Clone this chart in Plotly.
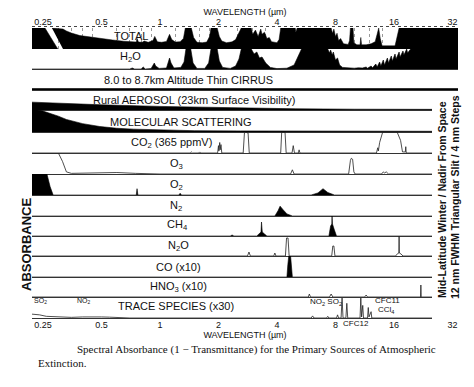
import math
import plotly.graph_objects as go

# ---------------- data: wavelength (um) / absorbance (0..1) ----------------
tick_vals = [0.25, 0.5, 1, 2, 4, 8, 16, 32]
tick_text = ["0.25", "0.5", "1", "2", "4", "8", "16", "32"]
minor_vals = [0.3, 0.35, 0.4, 0.45, 0.6, 0.7, 0.8, 0.9, 1.2, 1.4, 1.6, 1.8,
              2.5, 3, 3.5, 5, 6, 7, 10, 12, 14, 20, 24, 28]

total_uv_wl = [0.21, 0.21, 0.256, 0.298]
total_uv_abs = [0.0, 1.0, 1.0, 0.0]
total_wl = [0.278, 0.317, 0.33, 0.35, 0.387, 0.45, 0.5, 0.57, 0.65, 0.72, 0.755, 0.762, 0.775, 0.81,
            0.83, 0.87, 0.92, 0.94, 0.97, 1.02, 1.08, 1.12, 1.15, 1.2, 1.27, 1.32, 1.35, 1.45, 1.49,
            1.55, 1.65, 1.74, 1.8, 1.83, 1.97, 2.02, 2.08, 2.2, 2.35, 2.45, 2.55, 2.62, 2.95, 3.0,
            3.1, 3.2, 3.3, 3.35, 3.45, 3.55, 3.65, 3.75, 4.0, 4.1, 4.18, 4.95, 5.0, 5.08, 7.6, 7.72,
            7.85, 8.0, 8.15, 8.3, 8.5, 8.8, 9.3, 9.45, 9.55, 9.85, 9.95, 10.3, 10.7, 10.8, 10.9,
            11.5, 12.2, 12.8, 13.1, 13.35, 13.6, 13.9, 16.2, 16.6, 17.0, 35.0, 35.0, 0.317]
total_abs = [1.0, 0.95, 0.86, 0.76, 0.64, 0.55, 0.5, 0.43, 0.37, 0.34, 0.33, 0.5, 0.33, 0.32,
             0.38, 0.32, 0.4, 0.6, 0.34, 0.32, 0.36, 0.7, 0.45, 0.33, 0.35, 0.5, 1.0, 1.0, 0.55,
             0.32, 0.3, 0.33, 0.6, 1.0, 1.0, 0.6, 0.38, 0.3, 0.34, 0.45, 0.75, 1.0, 1.0, 0.7,
             0.9, 0.6, 0.95, 0.7, 0.8, 0.5, 0.55, 0.35, 0.3, 0.45, 1.0, 1.0, 0.8, 1.0, 1.0, 0.75,
             0.95, 0.6, 0.75, 0.4, 0.5, 0.25, 0.22, 0.4, 1.0, 1.0, 0.3, 0.2, 0.2, 0.55, 0.2,
             0.2, 0.25, 0.35, 0.7, 1.0, 0.5, 0.15, 0.15, 0.6, 1.0, 1.0, 0.0, 0.0]

h2o_wl = [0.21, 0.70, 0.72, 0.74, 0.80, 0.82, 0.84, 0.90, 0.935, 0.95, 0.99, 1.08, 1.12, 1.14, 1.18,
          1.28, 1.33, 1.36, 1.44, 1.48, 1.55, 1.7, 1.78, 1.83, 1.97, 2.02, 2.1, 2.3, 2.45, 2.55,
          2.62, 2.95, 3.05, 3.15, 3.25, 3.35, 3.5, 3.7, 4.0, 4.5, 4.9, 5.15, 5.35, 7.3, 7.45, 7.55,
          7.7, 7.8, 8.0, 8.2, 8.4, 8.7, 9.2, 10.0, 10.5, 11.0, 11.5, 11.7, 12.2, 12.4, 12.9, 13.1,
          13.5, 13.7, 14.1, 14.3, 14.8, 15.0, 15.5, 15.7, 16.2, 16.4, 17.0, 17.2, 17.8, 18.0, 18.6,
          18.8, 19.5, 35]
h2o_abs = [0, 0, 0.05, 0, 0, 0.1, 0, 0.02, 0.3, 0.15, 0.03, 0.05, 0.55, 0.3, 0.05,
           0.08, 0.35, 1.0, 1.0, 0.3, 0.03, 0.03, 0.3, 1.0, 1.0, 0.4, 0.08, 0.03, 0.15, 0.5,
           1.0, 1.0, 0.75, 0.85, 0.55, 0.6, 0.3, 0.08, 0.02, 0.04, 0.2, 0.7, 1.0, 1.0, 0.8, 0.95,
           0.7, 0.85, 0.45, 0.55, 0.2, 0.08, 0.05, 0.04, 0.06, 0.05, 0.1, 0.04, 0.15, 0.06, 0.25, 0.1,
           0.35, 0.15, 0.45, 0.2, 0.55, 0.3, 0.65, 0.4, 0.75, 0.5, 0.85, 0.6, 0.9, 0.7, 1.0,
           0.8, 1.0, 1.0]

cirrus_wl = [0.21, 35]
cirrus_abs = [0.07, 0.07]

aerosol_wl = [0.21, 0.3, 0.5, 1.0, 2.6, 5, 10, 35]
aerosol_abs = [0.4, 0.34, 0.26, 0.18, 0.09, 0.06, 0.04, 0.03]

molec_wl = [0.21, 0.233, 0.25, 0.27, 0.3, 0.33, 0.4, 0.49, 0.6, 0.73, 1.0, 1.5, 2.6, 5, 35]
molec_abs = [1.0, 1.0, 0.95, 0.86, 0.72, 0.57, 0.38, 0.25, 0.17, 0.13, 0.09, 0.06, 0.05, 0.04, 0.03]

co2_wl = [0.21, 1.43, 1.45, 1.47, 1.58, 1.6, 1.62, 1.98, 2.0, 2.01, 2.03, 2.04, 2.06, 2.08,
          2.68, 2.72, 2.76, 2.84, 2.88, 4.18, 4.23, 4.4, 4.46, 4.78, 4.85, 4.92, 5.15, 5.2, 5.25,
          13.0, 13.2, 13.3, 13.5, 14.0, 16.6, 17.3, 17.7, 18.3, 18.4, 18.5, 35]
co2_abs = [0, 0, 0.05, 0, 0, 0.05, 0, 0, 0.35, 0.1, 0.5, 0.15, 0.4, 0,
           0, 0.95, 1.0, 0.95, 0, 0, 1.0, 1.0, 0, 0, 0.35, 0, 0, 0.15, 0,
           0, 0.25, 0.1, 0.5, 1.0, 1.0, 0.6, 0.05, 0.05, 0.3, 0, 0]

o3_wl = [0.21, 0.30, 0.315, 0.33, 0.35, 0.45, 0.6, 0.75, 1.0, 4.7, 4.8, 4.9, 9.35, 9.55,
         9.65, 9.8, 9.95, 10.1, 13.8, 14.1, 14.3, 14.6, 15.0, 35]
o3_abs = [1.0, 1.0, 0.6, 0.1, 0.03, 0.05, 0.07, 0.03, 0.0, 0, 0.2, 0, 0, 0.65,
          0.75, 0.7, 0.1, 0, 0, 0.1, 0.05, 0.1, 0, 0]

o2_wl = [0.21, 0.262, 0.272, 0.282, 0.755, 0.762, 0.77, 1.25, 1.27, 1.29, 6.0, 6.5, 6.9, 7.3, 7.9, 35]
o2_abs = [1.0, 1.0, 0.4, 0.0, 0, 0.3, 0, 0, 0.08, 0, 0, 0.1, 0.3, 0.12, 0, 0]

n2_wl = [0.21, 3.9, 4.05, 4.15, 4.3, 4.5, 4.8, 35]
n2_abs = [0, 0, 0.25, 0.47, 0.3, 0.1, 0, 0]

ch4_wl = [0.21, 2.3, 2.35, 2.4, 3.15, 3.25, 3.31, 3.33, 3.36, 3.45, 3.55, 7.4, 7.55, 7.66, 7.68,
          7.72, 7.9, 8.1, 35]
ch4_abs = [0, 0, 0.05, 0, 0, 0.15, 0.2, 0.7, 0.2, 0.1, 0, 0, 0.5, 0.6, 1.0,
           0.6, 0.3, 0, 0]

n2o_wl = [0.21, 2.82, 2.87, 2.92, 3.85, 3.9, 3.95, 4.42, 4.48, 4.56, 4.62, 7.65, 7.75, 7.85, 7.95,
          16.3, 16.7, 16.95, 17.0, 17.05, 17.4, 17.8, 35]
n2o_abs = [0, 0, 0.2, 0, 0, 0.15, 0, 0, 0.9, 0.9, 0, 0, 0.5, 0.5, 0,
           0, 0.12, 0.15, 1.0, 0.15, 0.1, 0, 0]

co_wl = [0.21, 4.5, 4.55, 4.6, 4.7, 4.75, 4.8, 35]
co_abs = [0, 0, 0.6, 1.0, 1.0, 0.5, 0, 0]

hno3_wl = [0.21, 5.8, 5.87, 5.95, 7.45, 7.6, 7.75, 11.3, 11.5, 11.7, 21.9, 22.0, 22.1, 35]
hno3_abs = [0, 0, 0.15, 0, 0, 0.15, 0, 0, 0.1, 0, 0, 0.6, 0, 0]

trace_wl = [0.21, 0.24, 0.26, 0.3, 0.35, 0.4, 0.45, 0.5, 0.55, 0.6, 0.7, 6.0, 6.1, 6.2, 7.2,
            7.3, 7.4, 8.1, 8.2, 8.3, 8.55, 8.65, 8.75, 9.05, 9.15, 9.25, 10.7, 10.8, 10.9, 11.05,
            11.15, 11.7, 11.8, 11.9, 12.2, 12.3, 35]
trace_abs = [0.2, 0.15, 0.08, 0.05, 0.03, 0.05, 0.06, 0.05, 0.04, 0.02, 0, 0, 0.1, 0, 0,
             0.08, 0, 0, 0.15, 0, 0, 0.95, 0, 0, 0.7, 0, 0, 0.95, 0.05, 0.6,
             0, 0, 0.5, 0.05, 0.3, 0, 0]

# ---------------- layout geometry ----------------
W, H = 474, 387
L, R, T, B = 32, 16, 28, 69
PW = W - L - R           # 426
PH = H - T - B           # 290
PX_PER_OCT = 58.5
LEFT_WL = 0.2195
full_right = math.log10(LEFT_WL) + PW / PX_PER_OCT * math.log10(2)
narrow_px = 400
narrow_right = math.log10(LEFT_WL) + narrow_px / PX_PER_OCT * math.log10(2)

rows = [
    # (x, y, fillmode, top_px, bottom_px, wide, show_separator)
    (total_uv_wl, total_uv_abs, "toself", 28, 49, True, False),
    (h2o_wl, h2o_abs, "tozeroy", 49, 69, True, True),
    (cirrus_wl, cirrus_abs, "tozeroy", 69, 90, True, True),
    (aerosol_wl, aerosol_abs, "tozeroy", 90, 110, False, True),
    (molec_wl, molec_abs, "tozeroy", 110, 132, False, True),
    (co2_wl, co2_abs, None, 132, 153, False, True),
    (o3_wl, o3_abs, None, 153, 174, False, True),
    (o2_wl, o2_abs, "tozeroy", 174, 195, False, True),
    (n2_wl, n2_abs, "tozeroy", 195, 216, False, True),
    (ch4_wl, ch4_abs, "tozeroy", 216, 236, False, True),
    (n2o_wl, n2o_abs, None, 236, 256, False, True),
    (co_wl, co_abs, "tozeroy", 256, 277, False, True),
    (hno3_wl, hno3_abs, None, 277, 297, False, True),
    (trace_wl, trace_abs, None, 297, 318, False, True),
]

fig = go.Figure()
layout = {}
for i, (xs, ys, fillmode, top, bot, wide, sep) in enumerate(rows):
    k = "" if i == 0 else str(i + 1)
    xa, ya = "x" + k, "y" + k
    dom_y = [(T + PH - bot) / PH, (T + PH - top) / PH]
    layout["xaxis" + k] = dict(
        type="log", domain=[0, 1] if wide else [0, narrow_px / PW],
        range=[math.log10(LEFT_WL), full_right if wide else narrow_right],
        anchor=ya, showline=sep, linecolor="#333", linewidth=1,
        showticklabels=False, ticks="", zeroline=False, automargin=False,
        showgrid=(i == 0), tickvals=minor_vals if i == 0 else None,
        gridcolor="#9a9a9a", griddash="dot", gridwidth=1,
    )
    layout["yaxis" + k] = dict(domain=dom_y, range=[0, 1.0], anchor=xa, visible=False,
                               fixedrange=True, automargin=False)
    if fillmode == "toself":
        fig.add_trace(go.Scatter(x=xs, y=ys, xaxis=xa, yaxis=ya, mode="lines", fill="toself",
                                 fillcolor="black", line=dict(color="black", width=0.5),
                                 hoverinfo="skip", showlegend=False))
        fig.add_trace(go.Scatter(x=total_wl, y=total_abs, xaxis=xa, yaxis=ya, mode="lines", fill="toself",
                                 fillcolor="black", line=dict(color="black", width=0.5),
                                 hoverinfo="skip", showlegend=False))
    elif fillmode == "tozeroy":
        fig.add_trace(go.Scatter(x=xs, y=ys, xaxis=xa, yaxis=ya, mode="lines", fill="tozeroy",
                                 fillcolor="black", line=dict(color="black", width=0.6),
                                 hoverinfo="skip", showlegend=False))
    else:
        fig.add_trace(go.Scatter(x=xs, y=ys, xaxis=xa, yaxis=ya, mode="lines",
                                 line=dict(color="#222", width=0.8),
                                 hoverinfo="skip", showlegend=False))

FONT = "Liberation Sans, Arial, sans-serif"
# label axes (bottom and top)
nb = len(rows)
layout["xaxis%d" % (nb + 1)] = dict(
    type="log", domain=[0, 1], range=[math.log10(LEFT_WL), full_right], anchor="y%d" % nb,
    side="bottom", tickvals=tick_vals, ticktext=tick_text, ticks="", showline=False,
    showgrid=False, zeroline=False, automargin=False,
    tickfont=dict(size=9, family=FONT, color="#111"),
    title=dict(text="WAVELENGTH (µm)", font=dict(size=9, family=FONT, color="#111"), standoff=0),
)
layout["xaxis%d" % (nb + 2)] = dict(
    type="log", domain=[0, 1], range=[math.log10(LEFT_WL), full_right], anchor="y",
    side="top", tickvals=tick_vals, ticktext=tick_text, ticks="", showline=False,
    showgrid=False, zeroline=False, automargin=False,
    tickfont=dict(size=9, family=FONT, color="#111"),
    title=dict(text="WAVELENGTH (µm)", font=dict(size=9, family=FONT, color="#111"), standoff=0),
)
fig.add_trace(go.Scatter(x=[1], y=[0], xaxis="x%d" % (nb + 1), yaxis="y%d" % nb, mode="markers",
                         marker=dict(opacity=0), hoverinfo="skip", showlegend=False))
fig.add_trace(go.Scatter(x=[1], y=[0], xaxis="x%d" % (nb + 2), yaxis="y", mode="markers",
                         marker=dict(opacity=0), hoverinfo="skip", showlegend=False))

def px_x(p):
    return (p - L) / PW

def px_y(p):
    return (T + PH - p) / PH

anns = []
def ann(text, x, y, size=11, bold=False, angle=0, family=FONT, anchor="center"):
    anns.append(dict(text=("<b>%s</b>" % text) if bold else text, x=px_x(x), y=px_y(y),
                     xref="paper", yref="paper", showarrow=False, textangle=angle,
                     xanchor=anchor, yanchor="middle",
                     font=dict(size=size, family=family, color="#111")))

ann("TOTAL", 131, 36)
ann("H<sub>2</sub>O", 130, 57)
ann("8.0 to 8.7km Altitude Thin CIRRUS", 188, 80)
ann("Rural AEROSOL (23km Surface Visibility)", 194, 100)
ann("MOLECULAR SCATTERING", 181, 122)
ann("CO<sub>2</sub> (365 ppmV)", 171, 143)
ann("O<sub>3</sub>", 176, 164)
ann("O<sub>2</sub>", 176, 185)
ann("N<sub>2</sub>", 176, 206)
ann("CH<sub>4</sub>", 177, 225)
ann("N<sub>2</sub>O", 178, 246)
ann("CO (x10)", 178, 267)
ann("HNO<sub>3</sub> (x10)", 178, 287)
ann("TRACE SPECIES (x30)", 176, 306)
ann("SO<sub>2</sub>", 40, 301, size=7)
ann("NO<sub>2</sub>", 84, 301, size=7)
ann("NO<sub>2</sub> SO<sub>2</sub>", 326, 302, size=8)
ann("CFC11", 387, 300, size=8)
ann("CCl<sub>4</sub>", 386, 310, size=8)
ann("CFC12", 356, 323, size=8)
ann("ABSORBANCE", 27, 244, size=13, bold=True, angle=-90)
ann("Mid-Latitude Winter / Nadir From Space", 442, 200, size=10.5, bold=True, angle=-90)
ann("12 nm FWHM Triangular Slit / 4 nm Steps", 455, 197, size=10.5, bold=True, angle=-90)
ann("Spectral Absorbance (1 − Transmittance) for the Primary Sources of Atmospheric",
    75, 349, size=11, family="Liberation Serif, Times New Roman, serif", anchor="left")
ann("Extinction.", 36, 363, size=11, family="Liberation Serif, Times New Roman, serif", anchor="left")

fig.update_layout(**layout)
fig.update_layout(
    width=W, height=H, margin=dict(l=L, r=R, t=T, b=B, pad=0, autoexpand=False),
    paper_bgcolor="white", plot_bgcolor="rgba(0,0,0,0)", showlegend=False,
    annotations=anns,
    shapes=[dict(type="line", xref="paper", yref="paper", x0=0, x1=1, y0=px_y(26.5), y1=px_y(26.5),
                 line=dict(color="#444", width=1, dash="dot"))],
)
fig.write_html("out.html", config={"displayModeBar": False, "staticPlot": True},
               post_script="document.body.style.margin='0';document.body.style.overflow='hidden';")
